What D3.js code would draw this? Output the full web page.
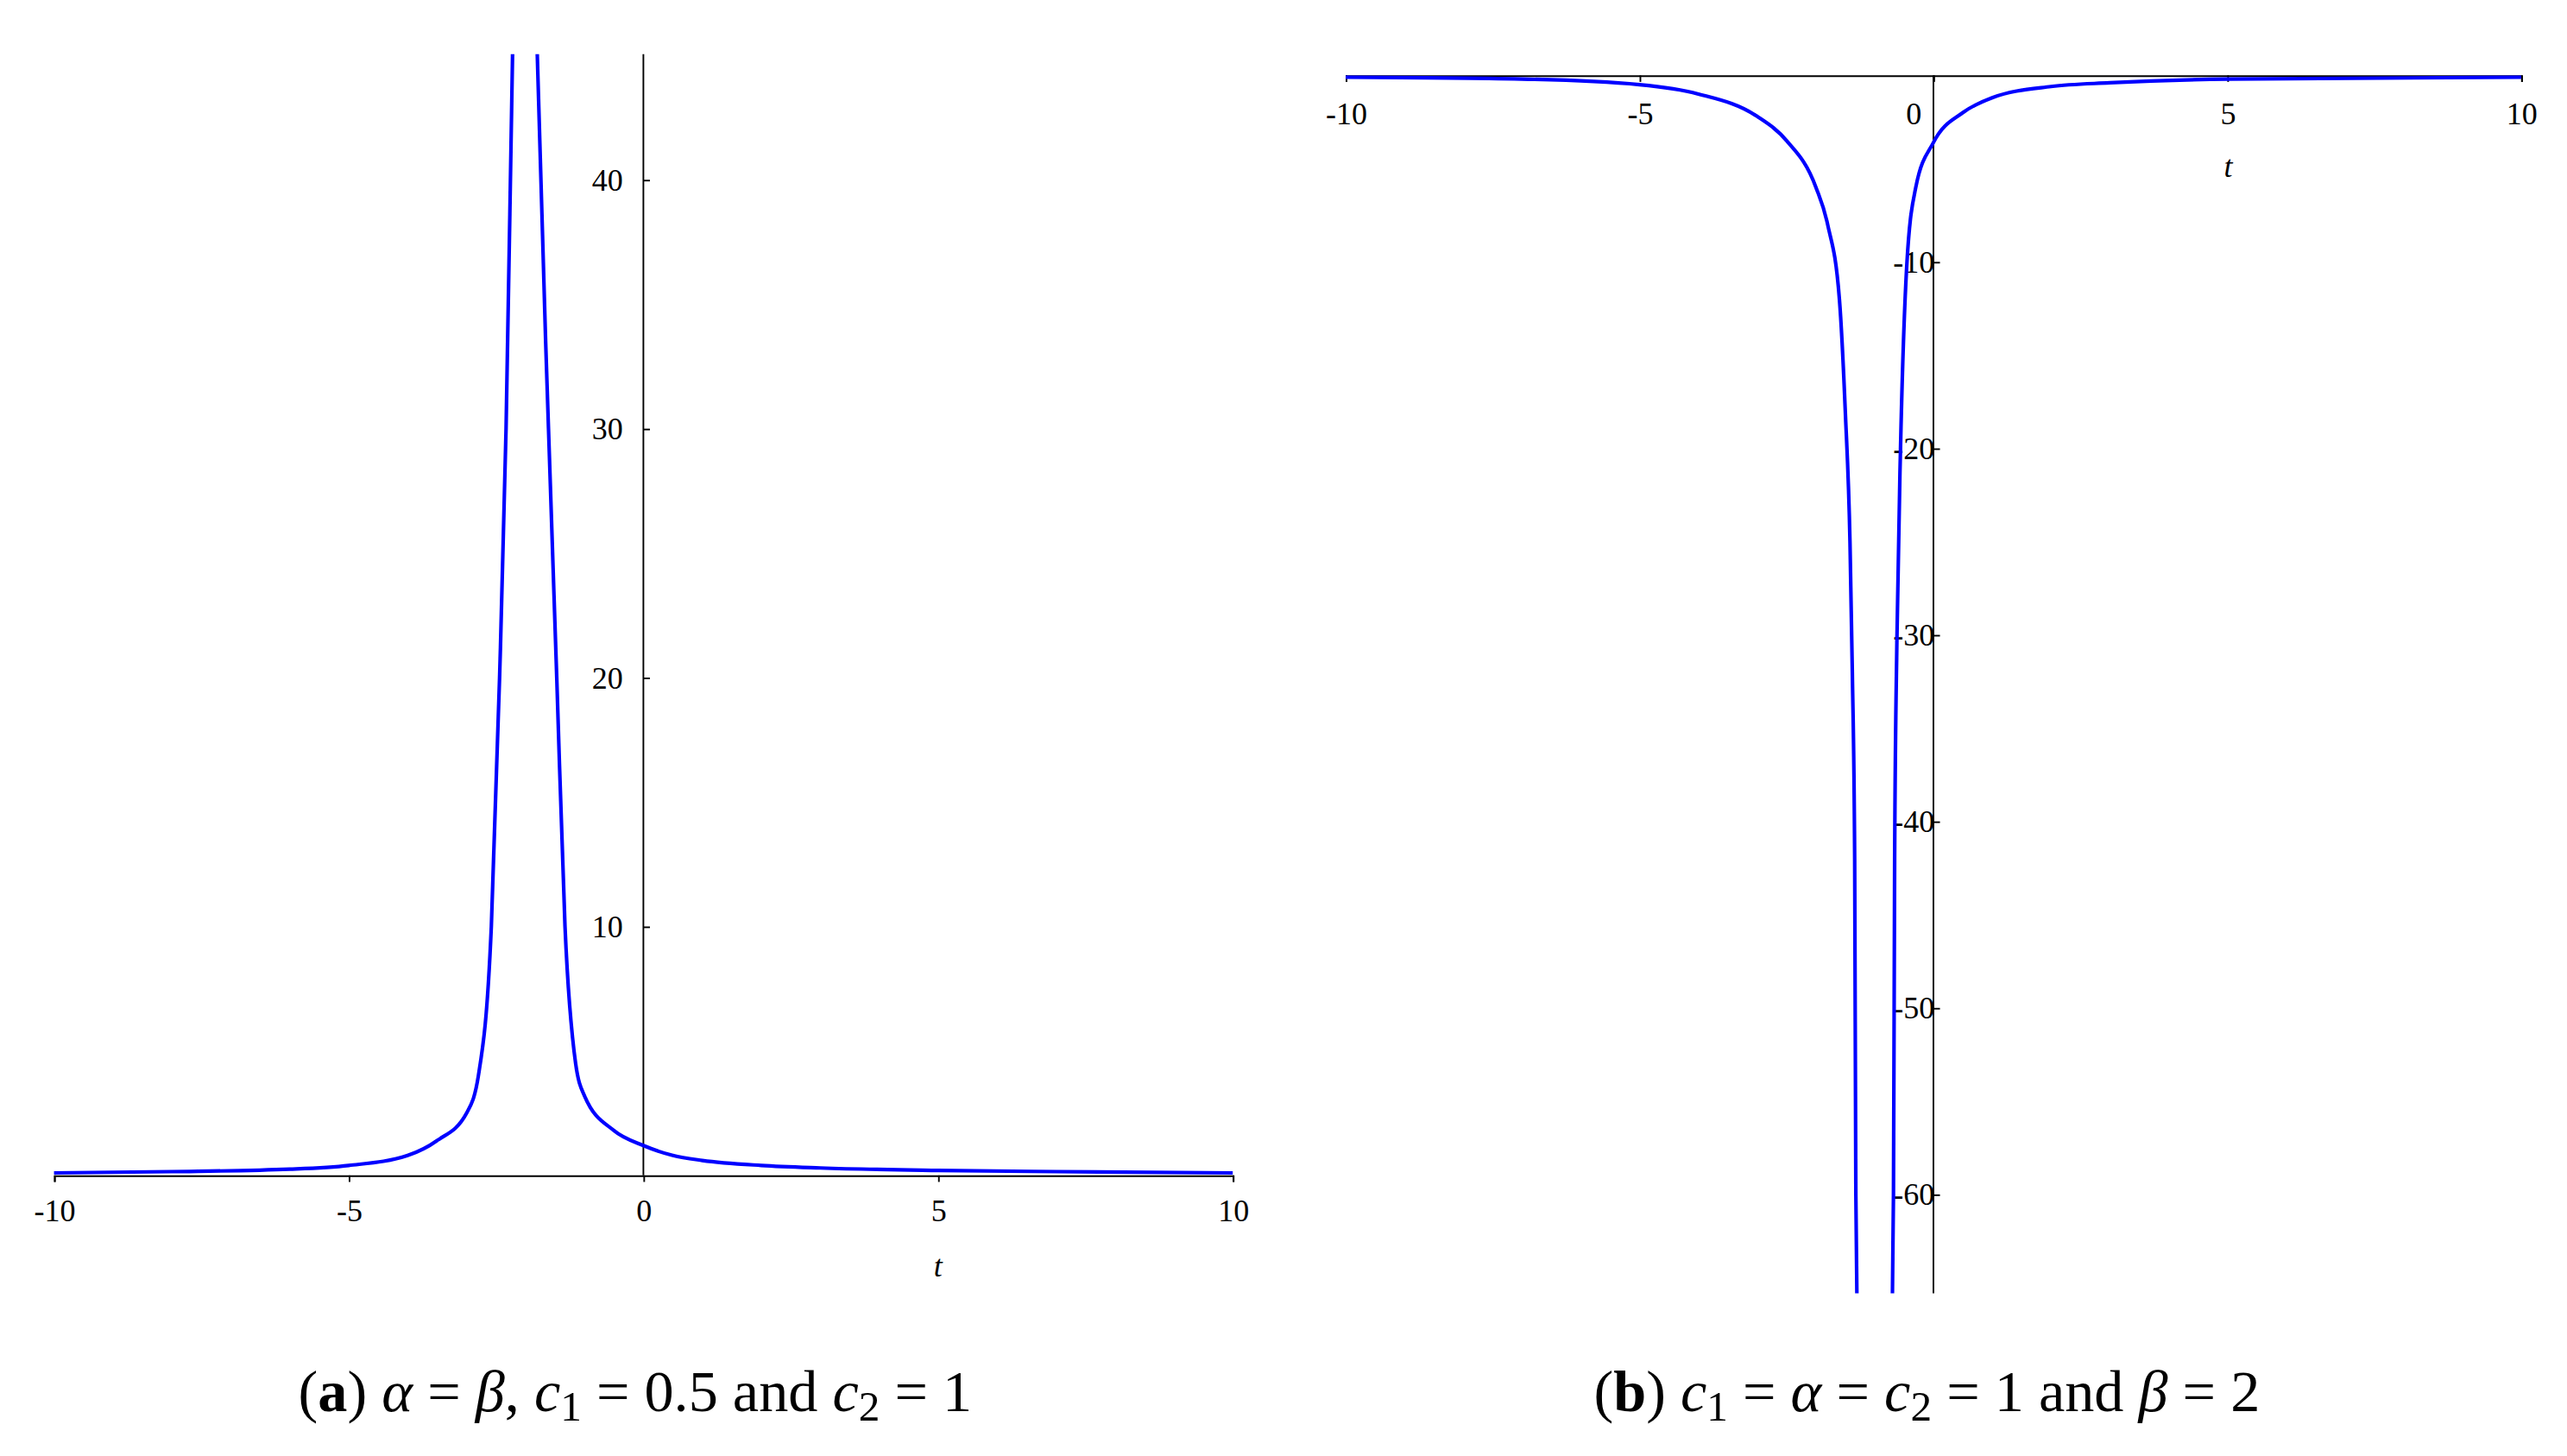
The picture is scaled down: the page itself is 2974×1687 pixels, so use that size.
<!DOCTYPE html>
<html><head><meta charset="utf-8">
<script src="https://cdn.jsdelivr.net/npm/d3@7"></script>
<style>body{margin:0;background:#fff}</style></head>
<body><div id="c"></div>
<script>
const xTicks=[-10,-5,0,5,10];
const aT=[-10,-8,-6,-5,-4,-3.5,-3,-2.8,-2.58,-2.44,-2.33,-2.22,-2.0,-1.8,-1.61,-1.47,-1.33,-1.15,-1,-0.5,0,0.5,1,2,3,5,7,10];
const aY=[0.1,0.15,0.25,0.4,0.8,1.4,2.5,4,10,20,30,45,70,45,30,20,10,4.5,3.2,1.8,1.2,0.8,0.6,0.4,0.3,0.2,0.15,0.1];
const aYTicks=[10,20,30,40];
const bT=[-10,-7,-5,-4,-3,-2.5,-2,-1.8,-1.6,-1.5,-1.42,-1.38,-1.34,-1.32,-1.0,-0.68,-0.66,-0.62,-0.56,-0.45,-0.3,0,0.5,1,2,3,5,10];
const bY=[-0.1,-0.2,-0.5,-1,-2.2,-3.5,-6,-8,-12,-18,-25,-32,-42,-60,-110,-60,-42,-30,-20,-10,-6,-3.6,-2,-1.2,-0.6,-0.4,-0.2,-0.1];
const bYTicks=[-10,-20,-30,-40,-50,-60];

const svg=d3.select("#c").append("svg").attr("width",2974).attr("height",1687).attr("viewBox","0 0 1568 889.4");
const font="Liberation Serif";
const blue="#0000ff";
function panel(id,x0,x1,y0,y1,yd,T,Y,yt,mode){
  const x=d3.scaleLinear().domain([-10,10]).range([x0,x1]);
  const y=d3.scaleLinear().domain(yd).range([y1,y0]);
  const g=svg.append("g").attr("font-family",font);
  g.append("clipPath").attr("id",id).append("rect").attr("x",x0-5).attr("y",y0).attr("width",x1-x0+10).attr("height",y1-y0);
  const ax=y(0);
  const xa=g.append("g").attr("transform",`translate(0,${ax})`).call(d3.axisBottom(x).tickValues(xTicks).tickSize(4).tickFormat(d=>d===0&&mode==="b"?"":d));
  xa.select(".domain").attr("stroke","#000");
  xa.selectAll("text").attr("font-size",19).attr("font-family",font).attr("dy",mode==="a"?"1.1em":"1.2em");
  g.append("text").attr("x",x(0)+180).attr("y",ax+62).attr("text-anchor","middle").attr("font-style","italic").attr("font-size",19).text("t");
  const ya=g.append("g").attr("transform",`translate(${x(0)},0)`).call(d3.axisRight(y).tickValues(yt).tickSize(4).tickFormat(d=>d));
  ya.select(".domain").attr("d",`M0,${y0}V${y1}`).attr("stroke","#000");
  ya.selectAll("text").attr("font-size",19).attr("font-family",font);
  if(mode==="b"){ya.selectAll("text").attr("x",-12).attr("text-anchor","middle").text(d=>"-"+Math.abs(d));
    g.append("text").attr("x",x(0)-12).attr("y",y(0)+30).attr("font-size",19).attr("text-anchor","middle").text("0");}
  else ya.selectAll("text").attr("x",-22).attr("text-anchor","middle");
  const line=d3.line().x((d,i)=>x(T[i])).y(d=>y(d)).curve(d3.curveMonotoneX);
  g.append("path").attr("clip-path",`url(#${id})`).attr("d",line(Y)).attr("fill","none").attr("stroke",blue).attr("stroke-width",2.2);
}
panel("ca",33,753,33,718,[0,45.05],aT,aY,aYTicks,"a");
panel("cb",822,1540,46,790,[-65.3,0],bT,bY,bYTicks,"b");
function cap(xc,parts){
  const t=svg.append("text").attr("x",xc).attr("y",862).attr("text-anchor","middle").attr("font-family","Liberation Serif").attr("font-size",36);
  parts.forEach(p=>{const s=t.append("tspan").text(p[0]);if(p[1])s.attr(p[1][0],p[1][1]);if(p[2])s.attr(p[2][0],p[2][1]);});
}
cap(388,[["(",null],["a",["font-weight","bold"]],[") ",null],["α",["font-style","italic"]],[" = ",null],["β",["font-style","italic"]],[", ",null],["c",["font-style","italic"]],["1",["font-size",26],["dy",6]],[" = 0.5 and ",null,["dy",-6]],["c",["font-style","italic"]],["2",["font-size",26],["dy",6]],[" = 1",null,["dy",-6]]]);
cap(1177,[["(",null],["b",["font-weight","bold"]],[") ",null],["c",["font-style","italic"]],["1",["font-size",26],["dy",6]],[" = ",null,["dy",-6]],["α",["font-style","italic"]],[" = ",null],["c",["font-style","italic"]],["2",["font-size",26],["dy",6]],[" = 1 and ",null,["dy",-6]],["β",["font-style","italic"]],[" = 2",null]]);
</script></body></html>
